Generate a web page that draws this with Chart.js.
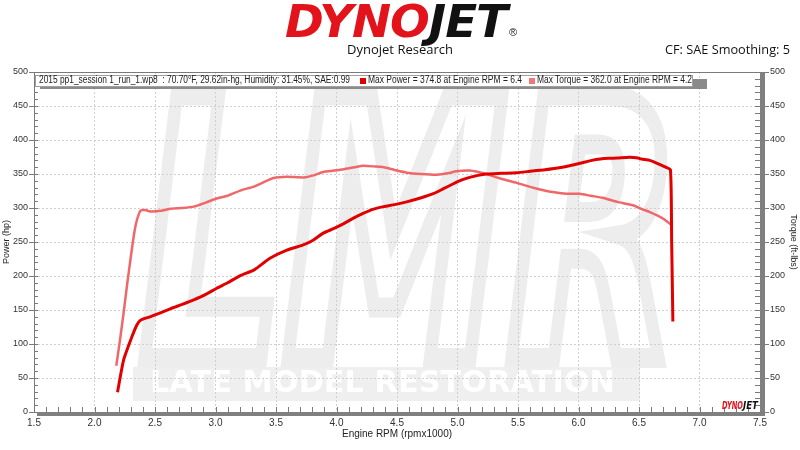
<!DOCTYPE html>
<html>
<head>
<meta charset="UTF-8">
<title>Dynojet Research</title>
<script src="https://cdn.jsdelivr.net/npm/chart.js"></script>
<style>
    body { margin: 0; background: #fff; }
    #wrap { position: relative; width: 800px; height: 450px; overflow: hidden; font-family: "Liberation Sans", Arial, sans-serif; }
    #c { position: absolute; left: 0; top: 0; }
    .abs { position: absolute; white-space: nowrap; transform-origin: 0 0; }
    /* logo */
    #logo { left: 285px; top: 0px; font: bold italic 44px/1 "DejaVu Sans", sans-serif; letter-spacing: -1px; }
    #logo .r { color: #e3131b; }
    #logo .k { color: #111; }
    #reg { left: 509px; top: 26px; font-size: 11px; color: #222; }
    #sub { left: 0; width: 800px; top: 40px; text-align: center; font: 13px "Open Sans", sans-serif; color: #111; }
    #cf { left: 665px; top: 40px; font: 13px "Open Sans", sans-serif; color: #111; }
    /* legend box */
    #lshadow { left: 40px; top: 79px; width: 667px; height: 10px; background: #8a8a8a; }
    #lbox { left: 35px; top: 75px; width: 656px; height: 10px; background: #fff; border: 1px solid #a0a0a0; }
    .lt { font-size: 10px; line-height: 12px; color: #222; top: 74px; }
    .sq { top: 78px; width: 6px; height: 6px; }
</style>
</head>
<body>
<div id="wrap">
    <canvas id="c" width="800" height="450"></canvas>
    <div id="logo" class="abs"><span class="r">DYNO</span><span class="k">JET</span></div>
    <div id="reg" class="abs">®</div>
    <div id="sub" class="abs">Dynojet Research</div>
    <div id="cf" class="abs">CF: SAE Smoothing: 5</div>
    <div id="lshadow" class="abs"></div>
    <div id="lbox" class="abs"></div>
    <div id="l1" class="abs lt" style="left:39px">2015 pp1_session 1_run_1.wp8&nbsp; : 70.70°F, 29.62in-hg, Humidity: 31.45%, SAE:0.99</div>
    <div class="abs sq" style="left:360px;background:#e10000"></div>
    <div id="l2" class="abs lt" style="left:368px">Max Power = 374.8 at Engine RPM = 6.4</div>
    <div class="abs sq" style="left:529px;background:#f0777a"></div>
    <div id="l3" class="abs lt" style="left:537px">Max Torque = 362.0 at Engine RPM = 4.2</div>
</div>
<script>
    // data (rpm x1000)
    var powerRpm = [2.19, 2.24, 2.31, 2.35, 2.38, 2.46, 2.55, 2.63, 2.72, 2.82, 2.92, 3.01, 3.10, 3.21, 3.32, 3.45, 3.59, 3.73, 3.81, 3.89,
        3.98, 4.06, 4.14, 4.22, 4.30, 4.39, 4.48, 4.58, 4.70, 4.80, 4.88, 4.97, 5.03, 5.10, 5.17, 5.24, 5.36, 5.49, 5.60, 5.71,
        5.80, 5.90, 5.97, 6.04, 6.11, 6.18, 6.25, 6.32, 6.42, 6.48, 6.52, 6.59, 6.67, 6.72, 6.76, 6.77, 6.78];
    var powerHp = [29, 76, 111, 128, 135, 140, 146, 152, 158, 165, 173, 182, 190, 201, 209, 226, 238, 246, 253, 263,
        270, 277, 285, 292, 298, 302, 305, 309, 315, 321, 328, 336, 341, 345, 348, 350, 351, 352, 354, 356,
        358, 361, 364, 367, 370, 372, 373, 373.5, 374.8, 374, 372, 370, 364, 360, 356, 250, 133];

    var torqueRpm = [2.18, 2.21, 2.24, 2.27, 2.30, 2.33, 2.35, 2.38, 2.42, 2.46, 2.55, 2.63, 2.72, 2.82, 2.92, 3.01, 3.10, 3.21, 3.31, 3.40,
        3.48, 3.59, 3.73, 3.81, 3.89, 3.98, 4.06, 4.15, 4.22, 4.32, 4.39, 4.48, 4.58, 4.70, 4.83, 4.92, 4.99, 5.10, 5.17, 5.24,
        5.36, 5.49, 5.60, 5.71, 5.80, 5.90, 6.01, 6.10, 6.20, 6.32, 6.45, 6.53, 6.59, 6.65, 6.71, 6.76];
    var torqueFt = [68, 105, 145, 188, 228, 265, 282, 296, 297, 295, 296, 299, 300, 302, 308, 314, 318, 326, 331, 338,
        344, 346, 345, 348, 353, 355, 357, 360, 362, 361, 360, 356, 352, 350, 349, 351, 354, 355, 353, 350,
        343, 337, 331, 326, 323, 321, 321, 318, 315, 309, 304, 298, 294, 289, 283, 276];

    var rpmMin = 1.5, rpmMax = 7.5, yMin = 0, yMax = 500;

    function pts(xs, ys) {
        return xs.map(function (v, i) { return { x: v, y: ys[i] }; });
    }

    // squeeze html text to the width it has on the sheet
    function fit(id, w) {
        var el = document.getElementById(id);
        el.style.transform = 'scaleX(' + (w / el.getBoundingClientRect().width) + ')';
    }
    fit('logo', 222);
    fit('cf', 125);
    fit('l1', 311);
    fit('l2', 154);
    fit('l3', 155);

    function line(ctx, x1, y1, x2, y2) {
        ctx.beginPath(); ctx.moveTo(x1, y1); ctx.lineTo(x2, y2); ctx.stroke();
    }

    function fitText(ctx, txt, x, y, w) {
        var m = ctx.measureText(txt).width;
        ctx.save();
        ctx.translate(x, y);
        ctx.scale(w / m, 1);
        ctx.fillText(txt, 0, 0);
        ctx.restore();
    }

    var decor = {
        id: 'decor',
        beforeDraw: function (chart) {
            var ctx = chart.ctx;
            ctx.save();
            // LMR watermark
            ctx.font = 'bold italic 360px "DejaVu Sans"';
            ctx.textBaseline = 'alphabetic';
            var m = ctx.measureText('LMR').width;
            ctx.translate(140, 358);
            ctx.scale(540 / m, 1);
            ctx.strokeStyle = '#ededed';
            ctx.lineWidth = 20;
            ctx.strokeText('LMR', 0, 0);
            ctx.restore();

            ctx.save();
            ctx.fillStyle = '#efefef';
            ctx.fillRect(133, 367, 507, 34);
            ctx.fillStyle = '#ffffff';
            ctx.font = 'bold 30px "DejaVu Sans"';
            ctx.textBaseline = 'middle';
            fitText(ctx, 'LATE MODEL RESTORATION', 150, 384, 465);
            ctx.restore();
        },
        afterDraw: function (chart) {
            var ctx = chart.ctx, a = chart.chartArea;
            var x = chart.scales.x, y = chart.scales.y;
            ctx.save();
            ctx.strokeStyle = '#7a7a7a';
            ctx.lineWidth = 1;
            line(ctx, a.left, a.top + 0.5, a.right, a.top + 0.5);
            line(ctx, a.left + 0.5, a.top, a.left + 0.5, a.bottom);
            for (var v = yMin; v <= yMax; v += 10) {
                var py = Math.round(y.getPixelForValue(v)) + 0.5;
                line(ctx, a.left, py, a.left + 4, py);
                line(ctx, a.right - 5, py, a.right, py);
                if (v % 50 === 0) {
                    line(ctx, a.left - 5, py, a.left, py);
                    line(ctx, a.right + 5, py, a.right + 9, py);
                }
            }
            for (var i = 0; i <= 60; i++) {
                var px = Math.round(x.getPixelForValue(rpmMin + i * 0.1)) + 0.5;
                line(ctx, px, a.bottom - 5, px, a.bottom);
            }
            // thick bottom and right bars
            ctx.fillStyle = '#808080';
            ctx.fillRect(a.left + 3, a.bottom, a.right + 5 - a.left - 3, 4);
            ctx.fillRect(a.right, a.top, 5, a.bottom + 4 - a.top);

            // little logo in the corner
            ctx.font = 'bold italic 10px "DejaVu Sans"';
            ctx.textBaseline = 'middle';
            ctx.fillStyle = '#e3131b';
            fitText(ctx, 'DYNO', 722, 406, 21);
            ctx.fillStyle = '#111';
            fitText(ctx, 'JET', 743, 406, 15);
            ctx.restore();
        }
    };

    var tickFont = { family: '"Liberation Sans", Arial, sans-serif', size: 10 };
    var yFont = { family: '"Liberation Sans", Arial, sans-serif', size: 9 };
    var gridDotted = function (ctx) {
        var v = ctx.tick.value;
        return (v === rpmMin || v === rpmMax || v === yMin || v === yMax) ? 'rgba(0,0,0,0)' : '#cfcfcf';
    };

    new Chart(document.getElementById('c'), {
        type: 'line',
        data: {
            datasets: [{
                label: 'Max Power = 374.8 at Engine RPM = 6.4',
                data: pts(powerRpm, powerHp),
                yAxisID: 'y',
                borderColor: '#e10000',
                borderWidth: 3,
                pointRadius: 0,
                tension: 0.2
            }, {
                label: 'Max Torque = 362.0 at Engine RPM = 4.2',
                data: pts(torqueRpm, torqueFt),
                yAxisID: 'yR',
                borderColor: '#f0676a',
                borderWidth: 2.5,
                pointRadius: 0,
                tension: 0.2
            }]
        },
        options: {
            responsive: false,
            animation: false,
            layout: { padding: { top: 72 } },
            plugins: { legend: { display: false }, tooltip: { enabled: false } },
            scales: {
                x: {
                    type: 'linear', min: rpmMin, max: rpmMax,
                    afterFit: function (s) { s.height = 38; },
                    ticks: { stepSize: 0.5, padding: 5, color: '#333', font: tickFont,
                        callback: function (v) { return v.toFixed(1); } },
                    grid: { color: gridDotted, drawTicks: false },
                    border: { display: false, dash: [2, 2] },
                    title: { display: true, text: 'Engine RPM (rpmx1000)', color: '#222', font: tickFont, padding: { top: 0, bottom: 10 } }
                },
                y: {
                    position: 'left', min: yMin, max: yMax,
                    afterFit: function (s) { s.width = 34; },
                    ticks: { stepSize: 50, padding: 6, color: '#333', font: yFont },
                    grid: { color: gridDotted, drawTicks: false },
                    border: { display: false, dash: [2, 2] },
                    title: { display: true, text: 'Power (hp)', color: '#222', font: yFont, padding: 1 }
                },
                yR: {
                    position: 'right', min: yMin, max: yMax,
                    afterFit: function (s) { s.width = 40; },
                    ticks: { stepSize: 50, padding: 10, color: '#333', font: yFont },
                    grid: { display: false, drawTicks: false },
                    border: { display: false },
                    title: { display: true, text: 'Torque (ft-lbs)', color: '#222', font: yFont, padding: 1 }
                }
            }
        },
        plugins: [decor]
    });
</script>
</body>
</html>
